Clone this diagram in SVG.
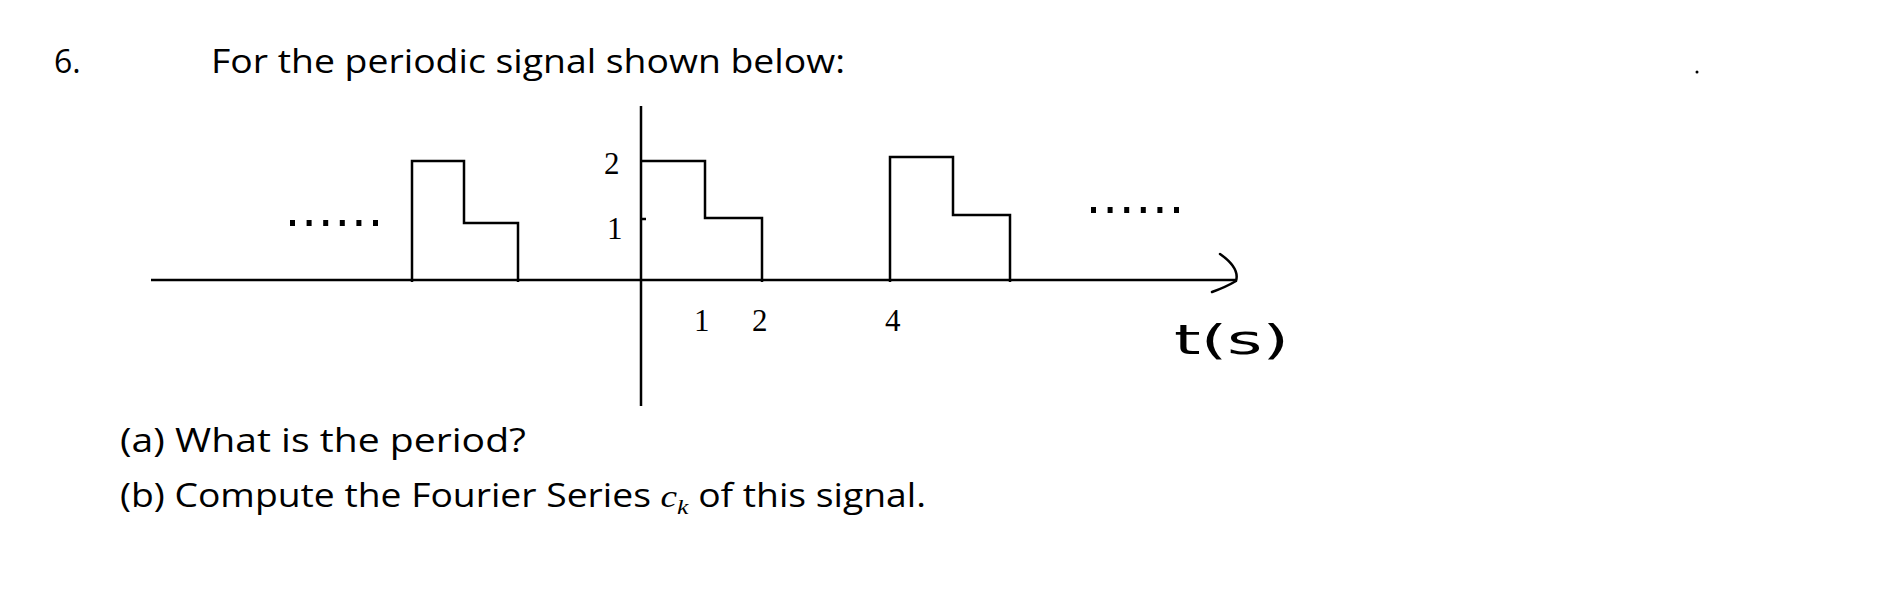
<svg xmlns="http://www.w3.org/2000/svg" width="1879" height="601" viewBox="0 0 1879 601">
<style>
.t{font-family:"Open Sans","Liberation Sans",sans-serif;font-size:32px;fill:#000}
.n{font-family:"Liberation Serif",serif;font-size:31px;fill:#000}
.s{fill:none;stroke:#000;stroke-width:2.5}
.d{fill:none;stroke:#000;stroke-width:6;stroke-dasharray:5 11.6}
</style>
<rect width="1879" height="601" fill="#fff"/>
<text class="t" x="54" y="73">6.</text>
<text class="t" x="211" y="73" textLength="634" lengthAdjust="spacingAndGlyphs">For the periodic signal shown below:</text>
<circle cx="1697" cy="72" r="1.5" fill="#000"/>
<g id="axes">
<line class="s" x1="151" y1="280" x2="1236" y2="280" stroke-width="3.5"/>
<line class="s" x1="641" y1="106" x2="641" y2="406"/>
<line class="s" x1="641" y1="219" x2="646" y2="219"/>
<path class="s" d="M1220 254 Q1240 268 1236 281 Q1226 287 1212 292" stroke-width="3.5" stroke-linecap="round"/>
</g>
<g id="signal">
<path class="s" d="M412 282 V161 H464 V223 H518 V282"/>
<path class="s" d="M641 161 H705 V218 H762 V282"/>
<path class="s" d="M890 282 V157 H953 V215 H1010 V282"/>
<path class="d" d="M290 223 H380"/>
<path class="d" d="M1091 210 H1180"/>
</g>
<g id="labels">
<text class="n" x="604" y="174">2</text>
<text class="n" x="607" y="239">1</text>
<text class="n" x="694" y="331">1</text>
<text class="n" x="752" y="331">2</text>
<text class="n" x="885" y="331">4</text>
<text x="1174" y="354" style="font-family:'DejaVu Sans',sans-serif;font-size:40px" textLength="115" lengthAdjust="spacingAndGlyphs">t(s)</text>
</g>
<text class="t" x="120" y="452" textLength="406" lengthAdjust="spacingAndGlyphs">(a) What is the period?</text>
<text class="t" x="120" y="507" textLength="806" lengthAdjust="spacingAndGlyphs">(b) Compute the Fourier Series <tspan font-style="italic" font-family="Liberation Serif, serif">c</tspan><tspan font-style="italic" font-family="Liberation Serif, serif" font-size="22" dy="7">k</tspan><tspan dy="-7"> of this signal.</tspan></text>
</svg>
